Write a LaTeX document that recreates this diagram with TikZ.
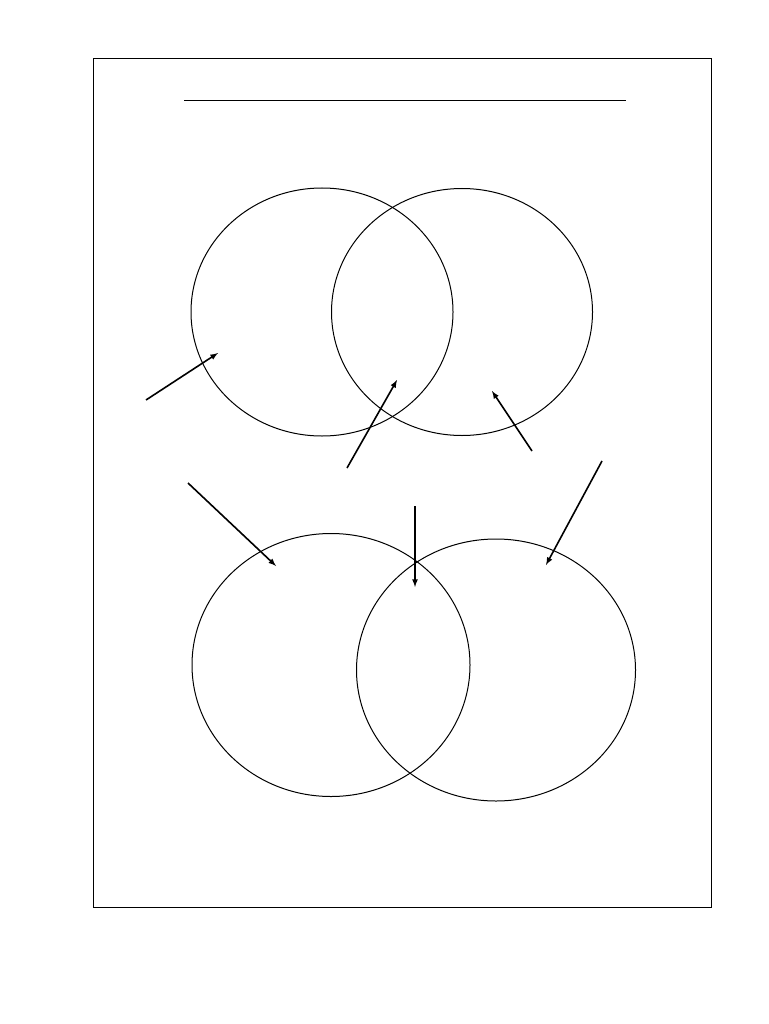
\documentclass[tikz,border=0pt]{standalone}
\usepackage{tikz}
\usetikzlibrary{arrows,shapes.geometric}

\begin{document}
\begin{tikzpicture}[x=1pt,y=-1pt,
    ring/.style={shape=ellipse,draw,line width=1pt,inner sep=0pt},
    pointer/.style={-latex,line width=1.6pt}]

    \useasboundingbox (0,0) rectangle (768,1024);
    \draw[line width=1pt] (93,59) rectangle (711,907);
    \draw[line width=1pt] (184,101) -- (626,101);

    % top pair
    \node[ring,minimum width=262pt,minimum height=248pt] (L1) at (322,312) {};
    \node[ring,minimum width=261pt,minimum height=247pt] (R1) at (462,312) {};
    % bottom pair
    \node[ring,minimum width=278pt,minimum height=263pt] (L2) at (331,665) {};
    \node[ring,minimum width=279pt,minimum height=262pt] (R2) at (496,670) {};

    \coordinate (a1) at (146,400); \coordinate (b1) at (218,353);
    \coordinate (a2) at (347,468); \coordinate (b2) at (397,380);
    \coordinate (a3) at (532,451); \coordinate (b3) at (492,391);
    \coordinate (a4) at (188,483); \coordinate (b4) at (276,566);
    \coordinate (a5) at (415,506); \coordinate (b5) at (415,587);
    \coordinate (a6) at (602,461); \coordinate (b6) at (546,565);

    \foreach \i in {1,...,6}
      \draw[pointer] (a\i) -- (b\i);
\end{tikzpicture}
\end{document}
